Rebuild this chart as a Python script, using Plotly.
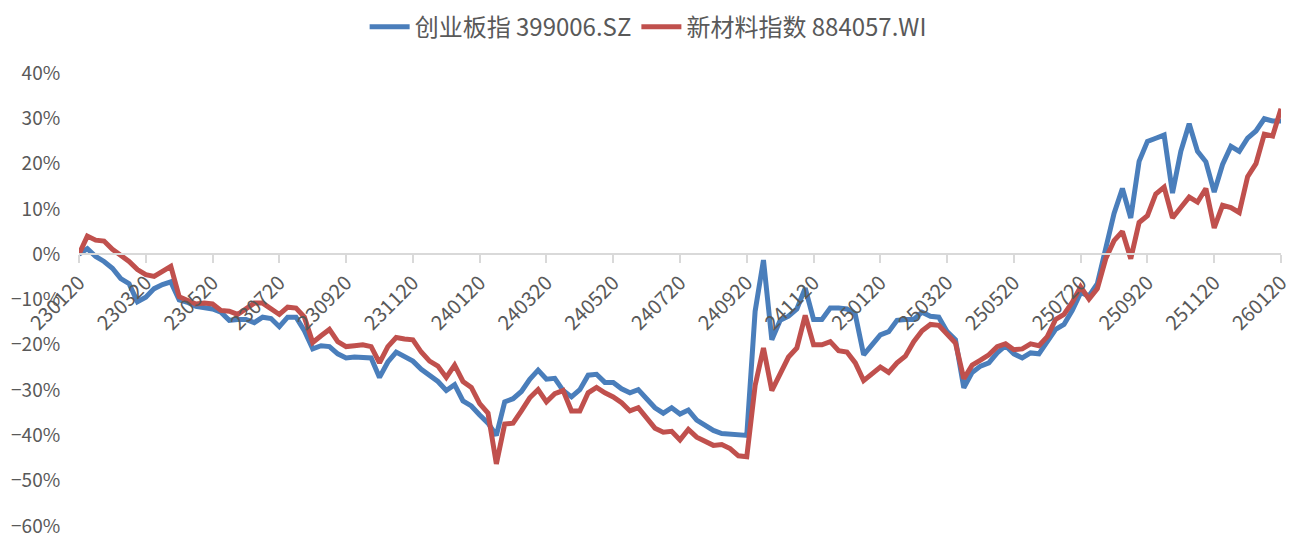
import plotly.graph_objects as go

# tick labels every 8 samples along the trading-day axis
tick_labels = ["230120", "230320", "230520", "230720", "230920", "231120",
               "240120", "240320", "240520", "240720", "240920", "241120",
               "250120", "250320", "250520", "250720", "250920", "251120",
               "260120"]

# cumulative return (%)
chinext = [
    0.0, 1.2, -0.5, -1.6, -3.1, -5.4, -6.5, -10.5, -9.5, -7.6,
    -6.7, -6.1, -10.1, -10.6, -11.5, -11.7, -12.1, -12.8, -14.6, -14.4,
    -14.4, -15.1, -13.9, -14.2, -16.0, -13.9, -13.9, -16.9, -20.9, -20.2,
    -20.4, -22.0, -22.9, -22.7, -22.7, -22.9, -27.2, -23.8, -21.6, -22.5,
    -23.6, -25.4, -26.7, -28.1, -30.1, -28.8, -32.4, -33.5, -35.5, -37.3,
    -40.0, -32.6, -31.9, -30.3, -27.6, -25.6, -27.6, -27.4, -30.1, -31.5,
    -29.9, -26.7, -26.5, -28.3, -28.3, -29.7, -30.6, -29.9, -31.9, -33.9,
    -35.1, -33.9, -35.3, -34.4, -36.6, -37.8, -38.9, -39.6, -39.8, -40.0,
    -40.0, -12.6, -1.3, -18.9, -14.6, -13.7, -12.1, -7.5, -14.4, -14.4,
    -11.9, -11.9, -12.1, -13.3, -22.2, -20.0, -17.8, -17.1, -14.6, -14.4,
    -14.4, -12.8, -13.7, -13.9, -17.1, -18.9, -29.5, -26.1, -24.7, -24.0,
    -21.8, -20.2, -22.0, -22.9, -21.8, -22.0, -19.3, -16.6, -15.5, -12.4,
    -8.5, -9.2, -6.5, 1.8, 9.0, 14.5, 8.0, 20.5, 24.9, 25.6,
    26.3, 13.5, 22.7, 28.8, 22.7, 20.4, 13.7, 19.8, 23.8, 22.7,
    25.6, 27.2, 29.9, 29.4, 29.4,
]

new_material = [
    0.0, 4.0, 3.1, 2.9, 1.1, -0.2, -1.6, -3.4, -4.5, -4.9,
    -3.8, -2.7, -9.4, -10.3, -11.0, -10.8, -11.0, -12.4, -12.6, -13.3,
    -11.9, -10.8, -10.8, -11.9, -13.3, -11.7, -11.9, -13.9, -19.5, -18.0,
    -16.6, -19.3, -20.4, -20.2, -20.0, -20.4, -24.0, -20.4, -18.4, -18.7,
    -18.9, -21.6, -23.6, -24.7, -27.2, -24.5, -28.1, -29.4, -33.0, -35.1,
    -46.3, -37.5, -37.3, -34.6, -31.7, -29.9, -32.6, -30.8, -30.1, -34.6,
    -34.6, -30.6, -29.4, -30.6, -31.5, -32.8, -34.6, -33.9, -36.2, -38.4,
    -39.3, -39.1, -41.0, -38.7, -40.4, -41.3, -42.2, -42.0, -42.9, -44.5,
    -44.7, -29.0, -20.7, -30.1, -26.3, -22.7, -20.7, -13.5, -20.0, -20.0,
    -19.3, -21.3, -21.6, -24.0, -27.9, -26.3, -24.9, -26.1, -24.0, -22.5,
    -19.3, -16.9, -15.5, -15.7, -17.8, -19.6, -27.5, -24.5, -23.4, -22.2,
    -20.4, -19.8, -21.1, -20.9, -19.8, -20.2, -18.2, -14.4, -13.3, -10.6,
    -7.2, -9.9, -7.6, -1.0, 3.0, 5.0, -1.0, 7.0, 8.5, 13.3,
    14.8, 8.0, 10.3, 12.6, 11.5, 14.5, 5.8, 10.8, 10.3, 9.2,
    17.1, 20.0, 26.5, 26.1, 32.1,
]

x = list(range(len(chinext)))
tick_step = 8

fig = go.Figure()

fig.add_trace(go.Scatter(
    x=x, y=chinext, mode='lines', name='创业板指 399006.SZ',
    line=dict(color='#4A7EBB', width=5)
))
fig.add_trace(go.Scatter(
    x=x, y=new_material, mode='lines', name='新材料指数 884057.WI',
    line=dict(color='#C0504D', width=5)
))

font_cn = "Noto Sans CJK SC"

# page body adds an 8px offset, so the figure is sized 8px smaller
fig.update_layout(
    width=1288, height=532,
    margin=dict(l=71, r=15, t=65, b=14, autoexpand=False),
    paper_bgcolor='white', plot_bgcolor='white',
    font=dict(family=font_cn, color='#595959'),
    showlegend=True,
    legend=dict(
        orientation='h', xref='container', yref='container',
        x=0.497, xanchor='center', y=0.964, yanchor='middle',
        font=dict(size=24, color='#595959'),
        itemwidth=40,
    ),
    xaxis=dict(
        range=[0, len(x) - 1],
        tickvals=x[::tick_step], ticktext=tick_labels,
        tickangle=-45, tickfont=dict(size=20, color='#595959'),
        showgrid=False, zeroline=False,
        showline=True, linecolor='#d9d9d9', linewidth=2,
        ticks='outside', ticklen=8, tickcolor='#d9d9d9', tickwidth=2,
        anchor='free', position=0.6,
    ),
    yaxis=dict(
        range=[-60, 40], dtick=10, ticksuffix='%',
        tickfont=dict(size=19, color='#595959'),
        ticks='outside', ticklen=14, tickcolor='rgba(0,0,0,0)',
        showgrid=False, zeroline=False, showline=False,
        domain=[0, 1],
    ),
)

fig.write_html("out.html")
